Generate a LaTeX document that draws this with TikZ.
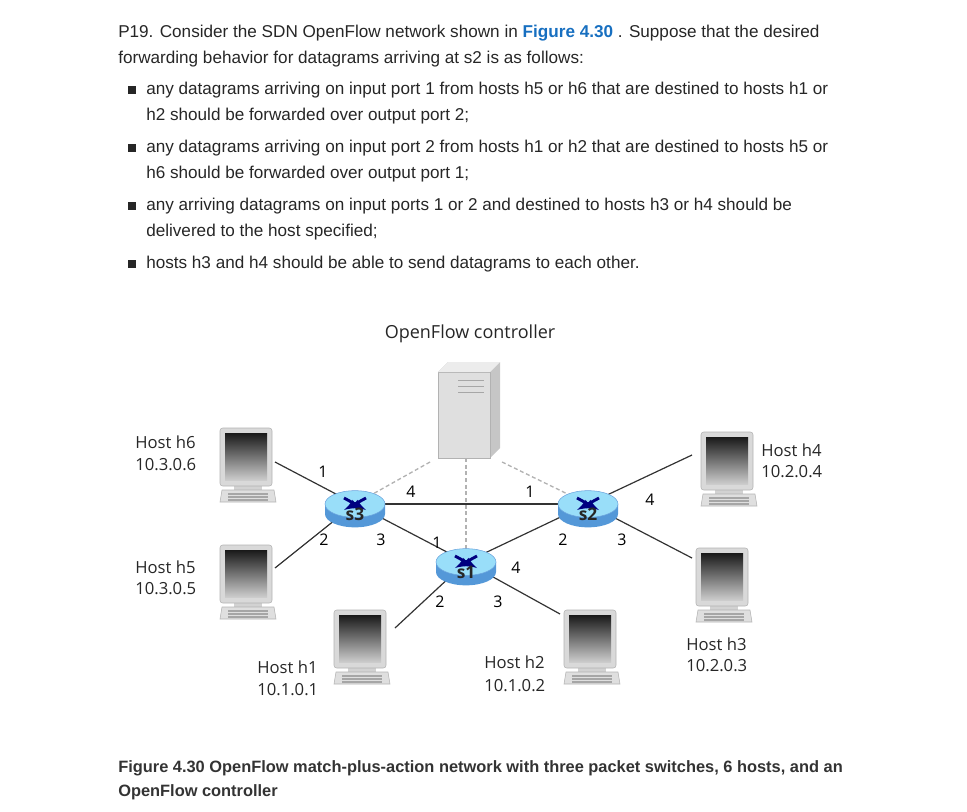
\documentclass[tikz,border=0pt]{standalone}
\usepackage{fontspec}
\setmainfont{Liberation Sans}
\newfontfamily\dfont{Open Sans}
\begin{document}
\begin{tikzpicture}[x=0.75pt,y=-0.75pt,
  txt/.style={anchor=west,inner sep=0pt,font=\fontsize{12.85}{14}\selectfont,text=black!85},
  dl/.style={anchor=west,inner sep=0pt,font=\dfont\fontsize{12.5}{14}\selectfont,text=black!85},
  pl/.style={inner sep=0pt,font=\dfont\fontsize{12}{14}\selectfont},
  link/.style={line width=0.9pt,black!80},
  ctl/.style={line width=1pt,gray!60,dash pattern=on 3pt off 2pt},
  captxt/.style={anchor=west,inner sep=0pt,font=\bfseries\fontsize{12.3}{14}\selectfont,text=black!80},
  pics/monitor/.style={code={
    \fill[gray!35] (-14,28) rectangle (14,34);
    \fill[gray!25,draw=gray!60] (-26,32) -- (26,32) -- (28,44) -- (-28,44) -- cycle;
    \foreach \yy in {36,39,42}{\draw[gray!70,line width=0.8pt] (-20,\yy) -- (20,\yy);}
    \fill[gray!30,draw=gray!60,rounded corners=2pt] (-28,-30) rectangle (24,28);
    \shade[top color=black!90,bottom color=gray!40] (-23,-25) rectangle (19,22);
  }},
  pics/switch/.style={code={
    \fill[cyan!60!blue!70] (-30,0) -- (-30,10) arc[start angle=180,end angle=360,x radius=22.5pt,y radius=10pt] -- (30,0) -- cycle;
    \fill[cyan!40,draw=cyan!60!blue!60] (0,0) ellipse[x radius=22.5pt,y radius=10pt];
    \draw[blue!50!black,line width=2.2pt,-latex] (-11,-6) -- (11,6);
    \draw[blue!50!black,line width=2.2pt,-latex] (11,-6) -- (-11,6);
    \node[font=\dfont\bfseries\fontsize{13}{14}\selectfont,text=black!85] at (0,10) {#1};
  }}]
\useasboundingbox (0,0) rectangle (967,811);
% text
\node[txt] (t1) at (118,33) {P19. Consider the SDN OpenFlow network shown in \textcolor{cyan!50!blue}{\bfseries Figure 4.30} . Suppose that the desired};
\node[txt] (t2) at (118,59) {forwarding behavior for datagrams arriving at s2 is as follows:};
\foreach \yy/\s [count=\i] in {90/{any datagrams arriving on input port 1 from hosts h5 or h6 that are destined to hosts h1 or},
  116/{h2 should be forwarded over output port 2;},
  148/{any datagrams arriving on input port 2 from hosts h1 or h2 that are destined to hosts h5 or},
  174/{h6 should be forwarded over output port 1;},
  206/{any arriving datagrams on input ports 1 or 2 and destined to hosts h3 or h4 should be},
  232/{delivered to the host specified;},
  264/{hosts h3 and h4 should be able to send datagrams to each other.}}
  {\node[txt] (b\i) at (146,\yy) {\s};}
\foreach \yy in {90,148,206,264}{\fill[black!85] (128,\yy-4) rectangle (136,\yy+4);}
% controller
\node[dl,anchor=center,font=\dfont\fontsize{13.5}{14}\selectfont] (oc) at (470,334) {OpenFlow controller};
\fill[gray!45] (438,372) -- (448,362) -- (500,362) -- (500,448) -- (490,458) -- cycle;
\fill[gray!25,draw=gray!60] (438,372) rectangle (490,458);
\fill[gray!15] (438,372) -- (448,362) -- (500,362) -- (490,372) -- cycle;
\foreach \yy in {380,386,392}{\draw[gray!70] (458,\yy) -- (484,\yy);}
\coordinate (srv) at (466,458);
% switches
\coordinate (s3) at (355,504);
\coordinate (s2) at (588,504);
\coordinate (s1) at (466,562);
% host positions
\coordinate (m6) at (248,458);
\coordinate (m5) at (248,575);
\coordinate (m1) at (362,640);
\coordinate (m2) at (592,640);
\coordinate (m3) at (724,578);
\coordinate (m4) at (729,462);
% links
\draw[ctl] (430,462) -- (s3);
\draw[ctl] (srv) -- (s1);
\draw[ctl] (502,462) -- (s2);
\draw[link] (s3) -- (s2);
\draw[link] (s3) -- (s1);
\draw[link] (s1) -- (s2);
\draw[link] (s3) -- (275,462);
\draw[link] (s3) -- (275,568);
\draw[link] (s1) -- (395,628);
\draw[link] (s1) -- (560,614);
\draw[link] (s2) -- (692,558);
\draw[link] (s2) -- (692,455);
\foreach \m in {m6,m5,m1,m2,m3,m4}{\pic at (\m) {monitor};}
\pic at (s3) {switch=s3};
\pic at (s2) {switch=s2};
\pic at (s1) {switch=s1};
% port labels
\node[pl] (p31) at (323,472) {1};
\node[pl] (p32) at (324,540) {2};
\node[pl] (p33) at (381,540) {3};
\node[pl] (p34) at (411,492) {4};
\node[pl] (p21) at (530,492) {1};
\node[pl] (p22) at (563,540) {2};
\node[pl] (p23) at (622,540) {3};
\node[pl] (p24) at (650,500) {4};
\node[pl] (p11) at (437,543) {1};
\node[pl] (p12) at (440,602) {2};
\node[pl] (p13) at (498,602) {3};
\node[pl] (p14) at (516,568) {4};
% host labels
\node[dl] (h6) at (135,442) {Host h6}; \node[dl] (a6) at (135,465) {10.3.0.6};
\node[dl] (h5) at (135,567) {Host h5}; \node[dl] (a5) at (135,589) {10.3.0.5};
\node[dl] (h1) at (257,667) {Host h1}; \node[dl] (a1) at (257,690) {10.1.0.1};
\node[dl] (h2) at (484,662) {Host h2}; \node[dl] (a2) at (484,686) {10.1.0.2};
\node[dl] (h3) at (686,644) {Host h3}; \node[dl] (a3) at (686,666) {10.2.0.3};
\node[dl] (h4) at (761,450) {Host h4}; \node[dl] (a4) at (761,472) {10.2.0.4};
% caption
\node[captxt] (c1) at (118,768) {Figure 4.30 OpenFlow match-plus-action network with three packet switches, 6 hosts, and an};
\node[captxt] (c2) at (118,792) {OpenFlow controller};
\end{tikzpicture}
\end{document}
